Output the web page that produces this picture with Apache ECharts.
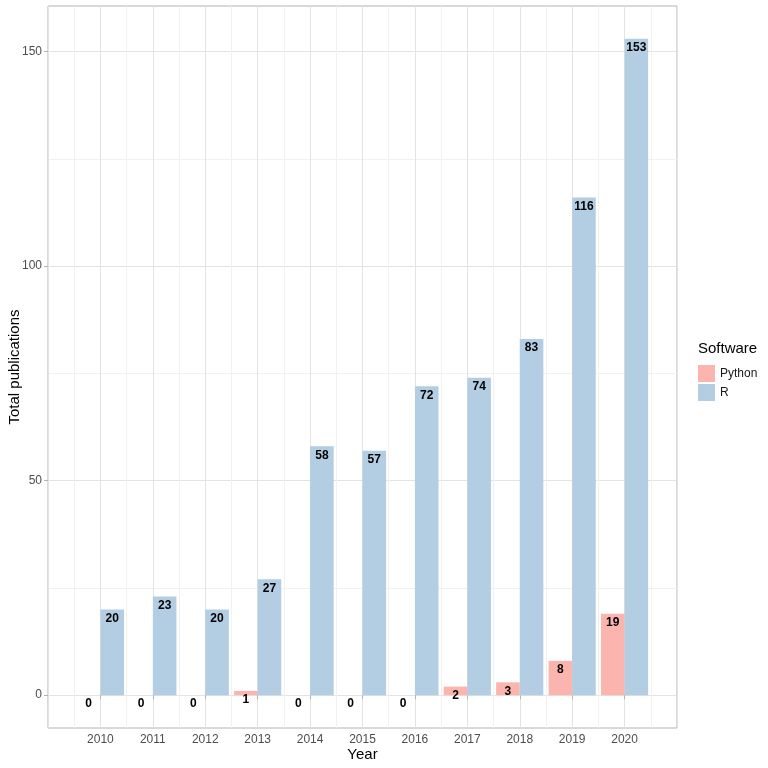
<!DOCTYPE html>
<html>
<head>
<meta charset="utf-8">
<script src="https://cdn.jsdelivr.net/npm/echarts@6/dist/echarts.min.js"></script>
<style>
html,body{margin:0;padding:0;background:#fff;}
#chart{width:768px;height:768px;}
</style>
</head>
<body>
<div id="chart"></div>
<script>
// data
var years = ['2009','2010','2011','2012','2013','2014','2015','2016','2017','2018','2019','2020','2021'];
var python = ['-',0,0,0,1,0,0,0,2,3,8,19,'-'];
var rSoft = ['-',20,23,20,27,58,57,72,74,83,116,153,'-'];
var yTicks = [0,50,100,150];
var yMinor = [25,75,125];

var font = 'Liberation Sans, Arial, sans-serif';
var myChart = echarts.init(document.getElementById('chart'));

var barLabel = {
	show : true,
	position : 'insideTop',
	distance : 3,
	color : '#000',
	fontWeight : 'bold',
	fontSize : 12,
	fontFamily : font
};

var option = {
	animation : false,
	backgroundColor : '#fff',
	title : {
		text : 'Software',
		left : 693,
		top : 336,
		textStyle : {fontSize : 15, fontWeight : 'normal', color : '#000', fontFamily : font}
	},
	legend : {
		orient : 'vertical',
		left : 693,
		top : 360,
		itemWidth : 17,
		itemHeight : 17,
		itemGap : 2,
		icon : 'rect',
		data : ['Python','R'],
		textStyle : {fontSize : 12, color : '#1a1a1a', fontFamily : font}
	},
	grid : {
		left : 48,
		right : 91,
		top : 6,
		bottom : 40,
		containLabel : false,
		outerBoundsMode : 'none',
		show : true,
		borderColor : '#b3b3b3',
		borderWidth : 1,
		backgroundColor : '#fff'
	},
	xAxis : [
		{
			type : 'category',
			data : years,
			boundaryGap : false,
			name : 'Year',
			nameLocation : 'middle',
			nameGap : 19,
			nameMoveOverlap : false,
			nameTextStyle : {fontSize : 15, color : '#000', fontFamily : font},
			axisLine : {show : false},
			axisTick : {
				show : true,
				length : 4,
				interval : function(i){ return i > 0 && i < years.length - 1; },
				lineStyle : {color : '#b3b3b3'}
			},
			axisLabel : {
				interval : 0,
				margin : 6,
				fontSize : 12,
				color : '#4d4d4d',
				fontFamily : font,
				formatter : function(v, i){ return (i > 0 && i < years.length - 1) ? v : ''; }
			},
			splitLine : {show : false}
		},
		{
			// grid lines only
			type : 'value',
			min : 2009,
			max : 2021,
			interval : 1,
			position : 'bottom',
			axisLine : {show : false},
			axisTick : {show : false},
			axisLabel : {show : false},
			splitLine : {show : true, lineStyle : {color : '#e3e3e3', width : 1}},
			minorTick : {show : false, splitNumber : 2},
			minorSplitLine : {show : true, lineStyle : {color : '#f1f1f1', width : 1}}
		}
	],
	yAxis : [
		{
			type : 'value',
			min : -7.65,
			max : 160.65,
			name : 'Total publications',
			nameLocation : 'middle',
			nameGap : 26,
			nameMoveOverlap : false,
			nameTextStyle : {fontSize : 15, color : '#000', fontFamily : font},
			axisLine : {show : false},
			axisTick : {show : true, length : 4, customValues : yTicks, lineStyle : {color : '#b3b3b3'}},
			axisLabel : {margin : 6, fontSize : 12, color : '#4d4d4d', fontFamily : font, customValues : yTicks},
			splitLine : {show : true, lineStyle : {color : '#e3e3e3', width : 1}}
		},
		{
			type : 'value',
			min : -7.65,
			max : 160.65,
			position : 'left',
			axisLine : {show : false},
			axisTick : {show : false, customValues : yMinor},
			axisLabel : {show : false, customValues : yMinor},
			splitLine : {show : true, lineStyle : {color : '#f1f1f1', width : 1}}
		}
	],
	series : [
		{
			name : 'Python',
			type : 'bar',
			xAxisIndex : 0,
			yAxisIndex : 0,
			data : python,
			barWidth : '45%',
			barGap : '0%',
			itemStyle : {color : '#fbb4ae'},
			label : barLabel
		},
		{
			name : 'R',
			type : 'bar',
			xAxisIndex : 0,
			yAxisIndex : 0,
			data : rSoft,
			barWidth : '45%',
			barGap : '0%',
			itemStyle : {color : '#b3cde3'},
			label : barLabel
		}
	]
};

myChart.setOption(option);
</script>
</body>
</html>
